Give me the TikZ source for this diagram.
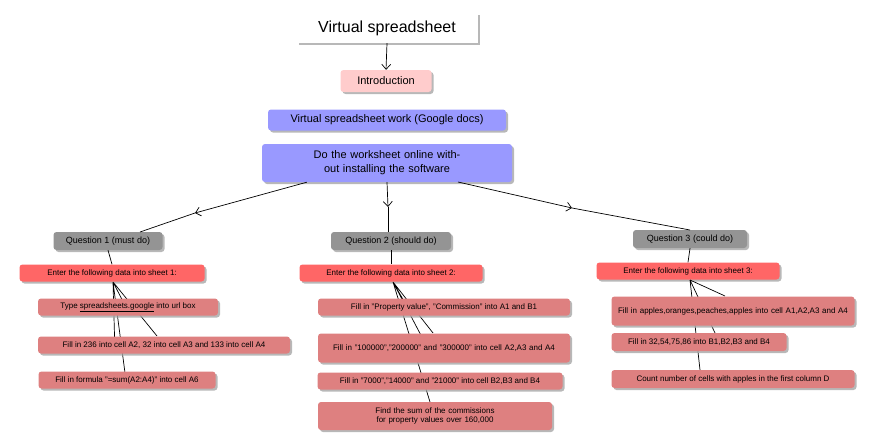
\documentclass[tikz,border=0pt]{standalone}
\usepackage{fontspec}
\setmainfont{Liberation Sans}
\usetikzlibrary{shadows,arrows.meta}
\begin{document}
\begin{tikzpicture}[x=1pt,y=-1pt,
 bx/.style={rounded corners=3pt,inner sep=1pt,align=center,font=\fontsize{8}{9}\selectfont,drop shadow={shadow xshift=2pt,shadow yshift=-2pt,fill=black!35,opacity=0.8}},
 big/.style={bx,font=\fontsize{11}{14}\selectfont},
 q/.style={bx,fill=black!42,font=\fontsize{9}{10}\selectfont},
 en/.style={bx,fill=red!60},
 ch/.style={bx,fill=red!50!black!20!white,fill={rgb,255:red,222;green,128;blue,128}},
 ln/.style={draw=black,line width=0.7pt},
 mid/.style={-{Straight Barb[length=5pt,width=9pt]}}]
\useasboundingbox (0,0) rectangle (872,447);
% title
\node[bx,fill=white,font=\fontsize{16}{18}\selectfont,minimum width=181pt,minimum height=30pt,rounded corners=0pt] (t) at (387,28) {Virtual spreadsheet};
\node[big,fill={rgb,255:red,255;green,204;blue,204},minimum width=91pt,minimum height=22pt] (intro) at (386,81) {Introduction};
\node[big,fill={rgb,255:red,153;green,153;blue,255},minimum width=238pt,minimum height=21pt] (vs) at (387,120) {Virtual spreadsheet work (Google docs)};
\node[big,fill={rgb,255:red,153;green,153;blue,255},minimum width=250pt,minimum height=38pt,text width=240pt] (do) at (387,163) {Do the worksheet online without installing the software};
\draw[ln,-{Straight Barb[length=5pt,width=9pt]}] (t.south) -- (intro.north);
% questions
\node[q,minimum width=109pt,minimum height=18pt] (q1) at (108,241) {Question 1 (must do)};
\node[q,minimum width=120pt,minimum height=18pt] (q2) at (391,241) {Question 2 (should do)};
\node[q,minimum width=114pt,minimum height=18pt] (q3) at (690,239) {Question 3 (could do)};
\coordinate (m1) at (195,213);
\coordinate (m2) at (388,207);
\coordinate (m3) at (572,208);
\draw[ln,mid] (do.south west)++(45,0) -- (m1);
\draw[ln] (m1) -- (140,232);
\draw[ln,mid] (do.south) -- (m2);
\draw[ln] (m2) -- (388,232);
\draw[ln,mid] (458,182) -- (m3);
\draw[ln] (m3) -- (690,230);
% enter
\node[en,minimum width=185pt,minimum height=17pt] (e1) at (112,273) {Enter the following data into sheet 1:};
\node[en,minimum width=183pt,minimum height=17pt] (e2) at (391,273) {Enter the following data into sheet 2:};
\node[en,minimum width=183pt,minimum height=17pt] (e3) at (688,271) {Enter the following data into sheet 3:};
\draw[ln] (q1.south) -- (e1.north);
\draw[ln] (q2.south) -- (e2.north);
\draw[ln] (q3.south) -- (e3.north);
% children
\coordinate (a1) at (113,282); \coordinate (a2) at (393,282); \coordinate (a3) at (690,280);
\draw[ln] (a1) -- (127,388) (a1)--(115,353) (a1)--(157,336) (a1)--(130,315);
\draw[ln] (a2)--(430,402) (a2)--(435,362) (a2)--(433,333) (a2)--(412,315);
\draw[ln] (a3)--(700,370) (a3)--(715,333) (a3)--(725,296);
\node[ch,minimum width=180pt,minimum height=17pt] (c11) at (128,307) {Type \underline{spreadsheets.google} into url box};
\node[ch,minimum width=252pt,minimum height=17pt] (c12) at (164,345) {Fill in 236 into cell A2, 32 into cell A3 and 133 into cell A4};
\node[ch,minimum width=177pt,minimum height=17pt] (c13) at (127,380) {Fill in formula "=sum(A2:A4)" into cell A6};
\node[ch,minimum width=252pt,minimum height=17pt] (c21) at (444,307) {Fill in "Property value", "Commission" into A1 and B1};
\node[ch,minimum width=252pt,minimum height=29pt,text width=244pt] (c22) at (444,348) {Fill in "100000","200000" and "300000" into cell A2,A3 and A4};
\node[ch,minimum width=245pt,minimum height=17pt] (c23) at (440,381) {Fill in "7000","14000" and "21000" into cell B2,B3 and B4};
\node[ch,minimum width=234pt,minimum height=28pt,text width=228pt] (c24) at (435,416) {Find the sum of the commissions for property values over 160,000};
\node[ch,minimum width=243pt,minimum height=29pt,text width=235pt] (c31) at (733,311) {Fill in apples,oranges,peaches,apples into cell A1,A2,A3 and A4};
\node[ch,minimum width=175pt,minimum height=18pt] (c32) at (699,342) {Fill in 32,54,75,86 into B1,B2,B3 and B4};
\node[ch,minimum width=243pt,minimum height=18pt] (c33) at (733,379) {Count number of cells with apples in the first column D};
\end{tikzpicture}
\end{document}
